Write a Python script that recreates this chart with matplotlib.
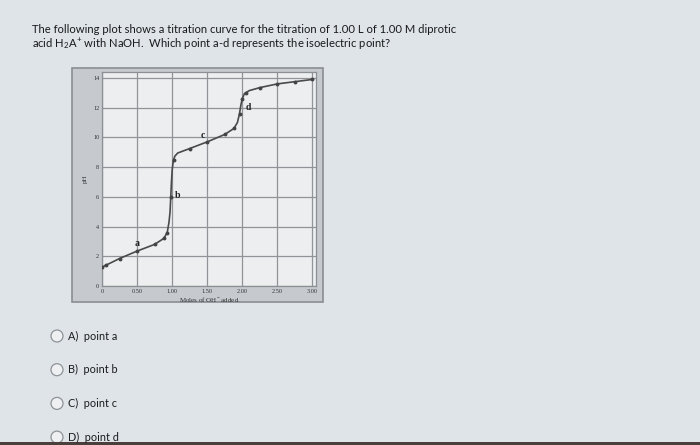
import matplotlib
matplotlib.use("Agg")
import matplotlib.pyplot as plt
from matplotlib.patches import Rectangle, Ellipse

# titration curve (moles OH- added, pH)
curve_x = [0.0, 0.05, 0.1, 0.25, 0.5, 0.75, 0.88, 0.93, 0.955, 0.97, 0.98, 0.99,
           1.0, 1.01, 1.02, 1.04, 1.08, 1.25, 1.5, 1.75, 1.88, 1.93, 1.96, 1.98,
           2.0, 2.03, 2.1, 2.25, 2.5, 2.75, 3.0]
curve_ph = [1.25, 1.4, 1.5, 1.85, 2.35, 2.8, 3.2, 3.6, 4.3, 5.0, 6.0, 7.0,
            7.8, 8.2, 8.5, 8.75, 8.95, 9.25, 9.7, 10.2, 10.6, 11.0, 11.6, 12.2,
            12.6, 12.95, 13.15, 13.35, 13.6, 13.75, 13.9]

marker_x = [0.0, 0.05, 0.25, 0.5, 0.75, 0.88, 0.93, 0.98, 1.02, 1.25, 1.5,
            1.75, 1.88, 1.96, 2.0, 2.05, 2.25, 2.5, 2.75, 3.0]
marker_ph = [1.25, 1.4, 1.85, 2.35, 2.8, 3.2, 3.6, 6.0, 8.5, 9.25, 9.7,
             10.2, 10.6, 11.6, 12.6, 13.0, 13.35, 13.6, 13.75, 13.9]

point_labels = ["a", "b", "c", "d"]
label_x = [0.5, 1.04, 1.44, 2.04]
label_ph = [2.85, 6.1, 10.1, 12.0]

x_ticks = [0, 0.5, 1.0, 1.5, 2.0, 2.5, 3.0]
x_ticklabels = ["0", "0.50", "1.00", "1.50", "2.00", "2.50", "3.00"]
y_ticks = [0, 2, 4, 6, 8, 10, 12, 14]

question = ("The following plot shows a titration curve for the titration of 1.00 L of 1.00 M diprotic\n"
            "acid H$_2$A$^{+}$ with NaOH.  Which point a-d represents the isoelectric point?")
choices = ["A)  point a", "B)  point b", "C)  point c", "D)  point d"]

plt.rcParams["mathtext.fontset"] = "custom"
plt.rcParams["mathtext.rm"] = "Lato"
plt.rcParams["mathtext.it"] = "Lato"

W, H = 700, 445
fig = plt.figure(figsize=(7, 4.45), dpi=100)
fig.patch.set_facecolor("#dfe4e9")

# gray panel around the chart
fig.patches.append(Rectangle((72 / W, 1 - 302 / H), 251 / W, 234 / H,
                             transform=fig.transFigure, facecolor="#c6cacf",
                             edgecolor="#8a8e93", lw=1.2, zorder=-5))

ax = fig.add_axes([102 / W, 1 - 286 / H, 214 / W, 214 / H])
ax.set_zorder(2)
ax.set_facecolor("#eceef0")
ax.plot(curve_x, curve_ph, color="#4a4a4a", lw=1.2, zorder=3)
ax.plot(marker_x, marker_ph, "o", color="#444444", ms=1.8, zorder=4)
for lab, lx, ly in zip(point_labels, label_x, label_ph):
    ax.text(lx, ly, lab, fontsize=7, fontweight="bold", family="Liberation Serif",
            color="#222222", ha="left" if lab in "bd" else "center", va="center")

ax.set_xlim(0, 3.05)
ax.set_ylim(0, 14.4)
ax.set_xticks(x_ticks)
ax.set_xticklabels(x_ticklabels)
ax.set_yticks(y_ticks)
ax.grid(True, color="#909397", lw=0.9)
ax.tick_params(length=0, labelsize=4.5, colors="#333333", pad=2)
for lbl in ax.get_xticklabels() + ax.get_yticklabels():
    lbl.set_family("Liberation Serif")
for s in ax.spines.values():
    s.set_color("#8c8f93")
    s.set_linewidth(0.9)
ax.set_xlabel("Moles of OH$^{-}$ added", fontsize=5, family="Liberation Serif",
              color="#333333", labelpad=1)
ax.set_ylabel("pH", fontsize=5, family="Liberation Serif", color="#333333", labelpad=4)

fig.text(32 / W, 1 - 38 / H, question, fontsize=8.1, family="Lato",
         color="#1a1a1a", ha="left", va="center", linespacing=1.15)

for i, txt in enumerate(choices):
    yc = 336 + i * 33.7
    fig.patches.append(Ellipse((57 / W, 1 - yc / H), 12 / W, 12 / H,
                               transform=fig.transFigure, facecolor="#eef0f2",
                               edgecolor="#8f9398", lw=0.9))
    fig.text(68 / W, 1 - yc / H, txt, fontsize=7.8, family="Lato",
             color="#1a1a1a", ha="left", va="center")

# dark strip at the bottom edge of the screenshot
fig.patches.append(Rectangle((0, 0), 1, 3 / H, transform=fig.transFigure,
                             facecolor="#4a403b", edgecolor="none"))

fig.savefig("out.png", dpi=100, facecolor=fig.get_facecolor())
